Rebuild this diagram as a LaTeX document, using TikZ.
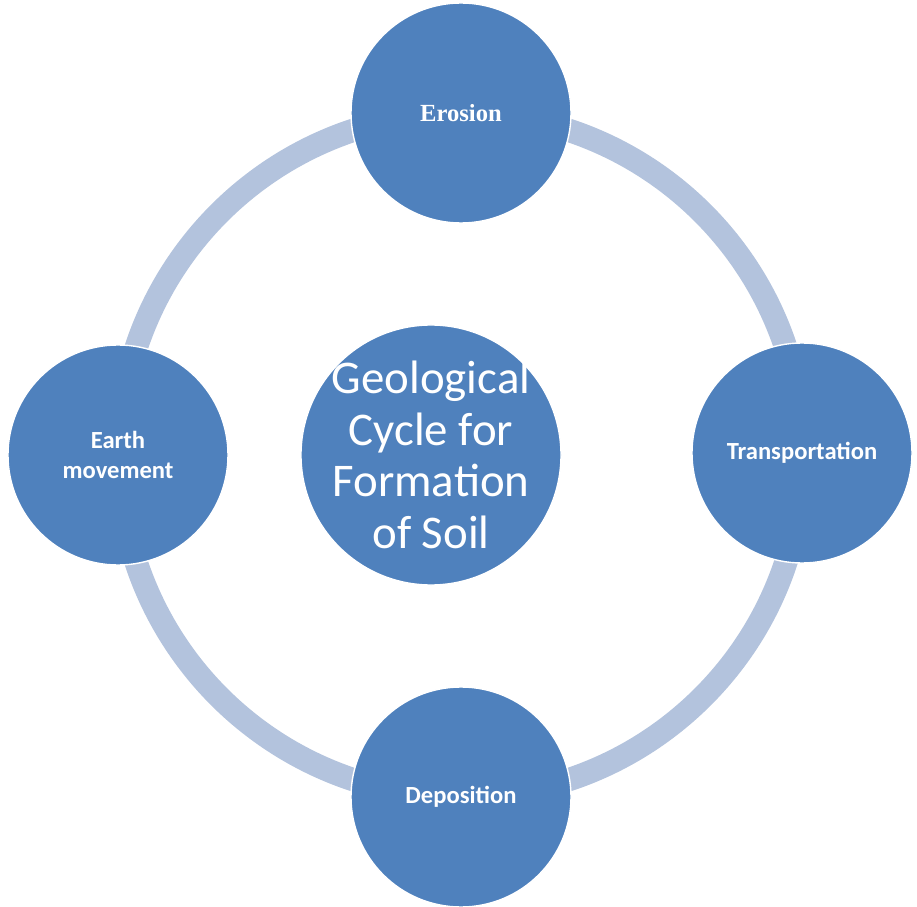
\documentclass[tikz,border=0pt]{standalone}
\usepackage{fontspec}
\setmainfont{Carlito}
\newfontfamily\timesfont{Liberation Serif}
\definecolor{cyclefill}{HTML}{4F81BD}
\definecolor{ringcol}{HTML}{B3C3DD}
\tikzset{
  stage/.style={circle,fill=cyclefill,draw=white,line width=1.2pt,minimum size=6.6cm,
    text=white,font=\bfseries\fontsize{21}{25}\selectfont,align=center,inner sep=0pt},
  hub/.style={stage,minimum size=7.8cm,inner sep=-25pt,font=\fontsize{40}{44}\selectfont}
}
\begin{document}
\begin{tikzpicture}[x=0.03cm,y=-0.03cm]
\useasboundingbox (0,0) rectangle (917,907);
\coordinate (C) at (461,455);
\draw[ringcol,line width=0.7cm] (C) circle [radius=10.26cm];
\node[stage,font=\timesfont\bfseries\fontsize{21}{25}\selectfont] (erosion) at (461,113) {Erosion};
\node[stage] (transport) at (802,453) {Transportation};
\node[stage] (deposit) at (461,797) {Deposition};
\node[stage] (earth) at (118,455) {Earth\\movement};
\node[hub] (geo) at (431,455) {Geological\\Cycle for\\Formation\\of Soil};
\end{tikzpicture}
\end{document}
